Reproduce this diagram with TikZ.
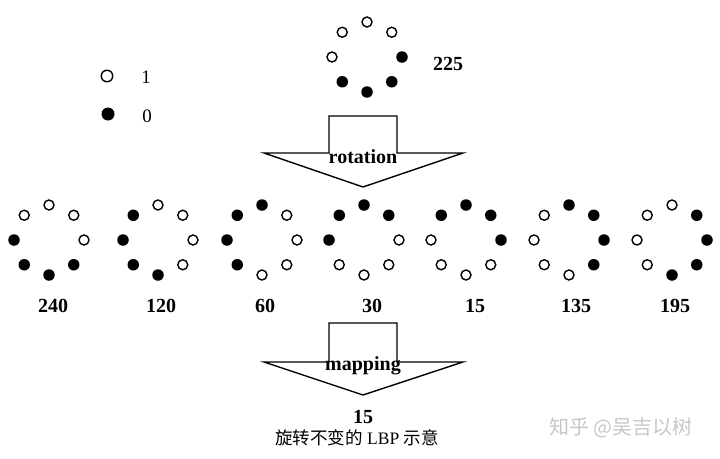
\documentclass[tikz,border=0pt]{standalone}
\usepackage{fontspec}
\setmainfont{Liberation Serif}
\newfontfamily\cjk{Noto Sans CJK SC}
\usetikzlibrary{calc}
\begin{document}
\begin{tikzpicture}[x=1pt,y=-1pt,
    bit1/.style={circle,draw=black,line width=1.4pt,fill=white,inner sep=0pt,minimum size=10pt},
    bit0/.style={circle,fill=black,inner sep=0pt,minimum size=11.5pt},
    code/.style={font=\fontsize{20}{24}\selectfont\bfseries,inner sep=0pt,anchor=base},
    legendtext/.style={font=\fontsize{19}{22}\selectfont,inner sep=0pt,anchor=base},
    blockarrow/.style={draw=black,line width=1.4pt,line join=miter,fill=white}]
    \useasboundingbox (0,0) rectangle (720,458);
    % legend
    \node[bit1,minimum size=11.5pt] (lgone) at (107,76) {};
    \node[legendtext] (lgonetext) at (146,83) {1};
    \node[bit0,minimum size=13pt] (lgzero) at (108,114) {};
    \node[legendtext] (lgzerotext) at (147,122) {0};
    % input pattern
    \coordinate (c225) at (367,57);
    \foreach \b [count=\i from 0] in {1,1,0,0,0,0,1,1}
        \node[bit\b] (d225-\i) at ($(c225)+({-90+45*\i}:35)$) {};
    \node[code] (l225) at (448,70) {225};
    % rotation arrow
    \draw[blockarrow] (329,116) -- (397,116) -- (397,153) -- (463,153) -- (363,187)
        -- (264,153) -- (329,153) -- cycle;
    \node[code] (rot) at (363,163) {rotation};
    % rotated patterns
    \foreach \lbl/\cx/\lx/\pat in {240/49/53/{1,1,1,0,0,0,0,1},
                                120/158/161/{1,1,1,1,0,0,0,0},
                                60/262/265/{0,1,1,1,1,0,0,0},
                                30/364/372/{0,0,1,1,1,1,0,0},
                                15/466/475/{0,0,0,1,1,1,1,0},
                                135/569/576/{0,0,0,0,1,1,1,1},
                                195/672/675/{1,0,0,0,0,1,1,1}} {
        \coordinate (c\lbl) at (\cx,240);
        \foreach \b [count=\i from 0] in \pat
            \node[bit\b] (d\lbl-\i) at ($(c\lbl)+({-90+45*\i}:35)$) {};
        \node[code] (l\lbl) at (\lx,312) {\lbl};
    }
    % mapping arrow
    \draw[blockarrow] (329,323) -- (397,323) -- (397,362) -- (463,362) -- (363,395)
        -- (264,362) -- (329,362) -- cycle;
    \node[code] (map) at (363,370) {mapping};
    \node[code] (result) at (363,423) {15};
    \node[font=\fontsize{17.5}{20}\selectfont,inner sep=0pt] (caption) at (357,438)
        {\cjk 旋转不变的\rmfamily{} LBP \cjk 示意};
    \node[font=\fontsize{20}{22}\selectfont\cjk,text=black!22,inner sep=0pt] (mark) at (621,428)
        {知乎 @吴吉以树};
\end{tikzpicture}
\end{document}
